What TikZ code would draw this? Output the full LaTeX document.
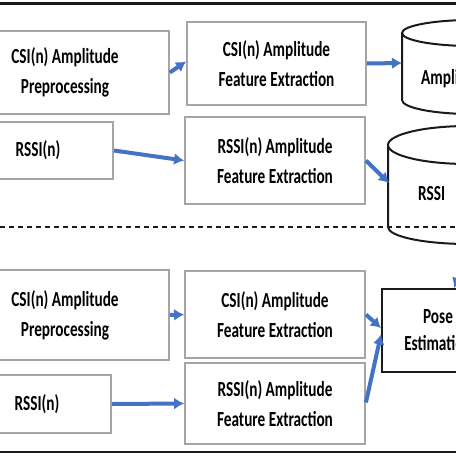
\documentclass[tikz,border=0pt]{standalone}
\usepackage{fontspec}
\setmainfont{Carlito}[FakeStretch=0.71]
\usetikzlibrary{calc, arrows.meta}
\definecolor{flowblue}{HTML}{4472C4}
\definecolor{boxgray}{HTML}{A5A5A5}
\definecolor{framedark}{HTML}{1A1A1A}

\begin{document}
\begin{tikzpicture}[
    x=1pt, y=1pt,
    stage/.style={draw=boxgray, line width=1.8pt, align=center, inner sep=0pt,
        font=\fontsize{21.5}{30}\selectfont\bfseries},
    dbtext/.style={anchor=base west, inner sep=0pt, font=\fontsize{21.5}{30}\selectfont\bfseries},
    flow/.style={line width=4pt, flowblue},
    db/.style={line width=2pt, framedark},
    >={Latex[length=10pt, width=12pt]}
]

\useasboundingbox (0,0) rectangle (456,-456);

% Frame
\draw[line width=2.2pt, framedark] (-40,-3.5) rectangle (500,-452);

% Offline stage (top)
\node[stage, minimum width=208pt, minimum height=83pt] (csiPreA) at (65,-72.5) {CSI(n) Amplitude\\Preprocessing};
\node[stage, minimum width=150pt, minimum height=57pt] (rssiA) at (38,-150.5) {RSSI(n)};
\node[stage, minimum width=179pt, minimum height=83pt] (csiFeatA) at (276.5,-63.5) {CSI(n) Amplitude\\Feature Extraction};
\node[stage, minimum width=180pt, minimum height=87pt] (rssiFeatA) at (275,-160.5) {RSSI(n) Amplitude\\Feature Extraction};

% Divider
\draw[line width=1.5pt, framedark, dash pattern=on 5pt off 4pt] (0,-227) -- (456,-227);

% Databases
\draw[db] (402,-33) -- (402,-100) arc[start angle=180, end angle=360, x radius=70, y radius=14] -- (542,-33);
\draw[db] (472,-33) ellipse[x radius=70, y radius=13];
\node[dbtext] (ampDb) at (421,-84) {Amplitude};
\coordinate (ampIn) at (402,-63);

\draw[db] (388,-145) -- (388,-227) arc[start angle=180, end angle=360, x radius=80, y radius=17] -- (548,-145);
\draw[db] (468,-145) ellipse[x radius=80, y radius=19];
\node[dbtext] (rssiDb) at (418,-200) {RSSI};
\coordinate (rssiIn) at (389,-183);
\coordinate (rssiOut) at (470,-247);

% Online stage (bottom)
\node[stage, minimum width=208pt, minimum height=90pt] (csiPreB) at (65,-315) {CSI(n) Amplitude\\Preprocessing};
\node[stage, minimum width=148pt, minimum height=58pt] (rssiB) at (37,-404) {RSSI(n)};
\node[stage, minimum width=180pt, minimum height=87pt] (csiFeatB) at (275,-314.5) {CSI(n) Amplitude\\Feature Extraction};
\node[stage, minimum width=180pt, minimum height=81pt] (rssiFeatB) at (275,-403.5) {RSSI(n) Amplitude\\Feature Extraction};
\node[stage, draw=framedark, line width=2pt, minimum width=112pt, minimum height=83pt,
    font=\fontsize{21.5}{27}\selectfont\bfseries] (pose) at (438,-330.5) {Pose\\Estimation};

% Flows
\draw[->, flow] (csiPreA.east) -- ([yshift=2pt]csiFeatA.west);
\draw[->, flow] (rssiA.east) -- (rssiFeatA.west);
\draw[->, flow] (csiFeatA.east) -- (ampIn);
\draw[->, flow] (rssiFeatA.east) -- (rssiIn);

\draw[->, flow] (csiPreB.east) -- (csiFeatB.west);
\draw[->, flow] (rssiB.east) -- (rssiFeatB.west);
\draw[->, flow] (csiFeatB.east) -- ([yshift=2.5pt]pose.west);
\draw[->, flow] ([yshift=1pt]rssiFeatB.east) -- ([yshift=-4pt]pose.west);
\draw[->, flow] (rssiOut) -- ([xshift=16pt]pose.north);

\end{tikzpicture}
\end{document}
